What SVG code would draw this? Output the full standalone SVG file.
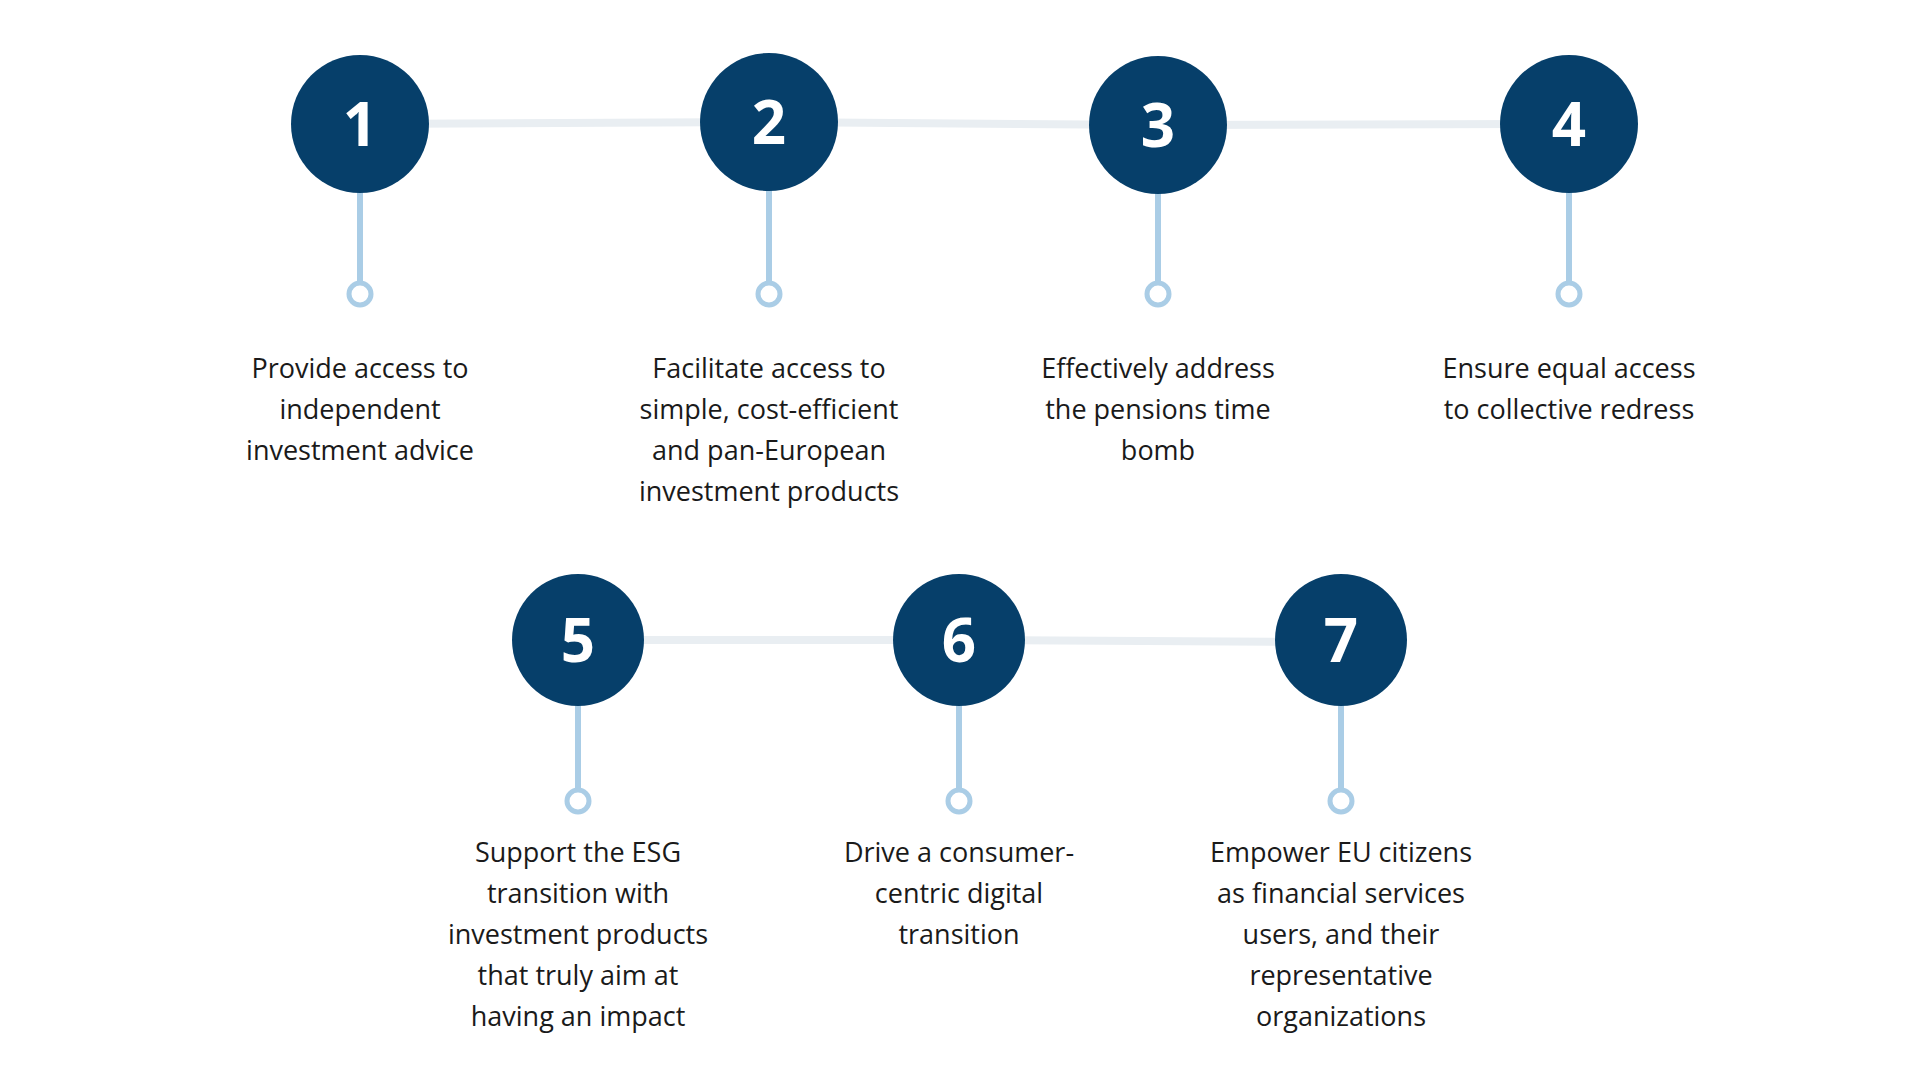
<svg xmlns="http://www.w3.org/2000/svg" width="1920" height="1080" viewBox="0 0 1920 1080">
<style>
.c{fill:#063f6a}
.n{font-family:"Open Sans","Liberation Sans",sans-serif;font-weight:700;font-size:60px;fill:#fff;text-anchor:middle}
.t{font-family:"Open Sans","Liberation Sans",sans-serif;font-size:27px;fill:#1a1a1a;text-anchor:middle}
.h{stroke:#e9eef2;stroke-width:8;fill:none}
.s{stroke:#aacde6;stroke-width:6;fill:none}
.d{stroke:#aacde6;stroke-width:5;fill:#fff}
</style>
<rect width="1920" height="1080" fill="#fff"/>
<g id="connectors">
<path class="h" d="M360 124 L769 122 L1158 125 L1569 124"/>
<path class="h" d="M578 640 L959 640 L1341 642"/>
<path class="s" d="M360 124 V283 M769 122 V283 M1158 125 V283 M1569 124 V283 M578 640 V790 M959 640 V790 M1341 640 V790"/>
</g>
<g id="node1"><circle class="d" cx="360" cy="294" r="11"/><circle class="c" cx="360" cy="124" r="69"/><text class="n" x="360" y="146">1</text>
<text class="t" x="360" y="378">Provide access to</text><text class="t" x="360" y="419">independent</text><text class="t" x="360" y="460">investment advice</text></g>
<g id="node2"><circle class="d" cx="769" cy="294" r="11"/><circle class="c" cx="769" cy="122" r="69"/><text class="n" x="769" y="144">2</text>
<text class="t" x="769" y="378">Facilitate access to</text><text class="t" x="769" y="419">simple, cost-efficient</text><text class="t" x="769" y="460">and pan-European</text><text class="t" x="769" y="501">investment products</text></g>
<g id="node3"><circle class="d" cx="1158" cy="294" r="11"/><circle class="c" cx="1158" cy="125" r="69"/><text class="n" x="1158" y="147">3</text>
<text class="t" x="1158" y="378">Effectively address</text><text class="t" x="1158" y="419">the pensions time</text><text class="t" x="1158" y="460">bomb</text></g>
<g id="node4"><circle class="d" cx="1569" cy="294" r="11"/><circle class="c" cx="1569" cy="124" r="69"/><text class="n" x="1569" y="146">4</text>
<text class="t" x="1569" y="378">Ensure equal access</text><text class="t" x="1569" y="419">to collective redress</text></g>
<g id="node5"><circle class="d" cx="578" cy="801" r="11"/><circle class="c" cx="578" cy="640" r="66"/><text class="n" x="578" y="662">5</text>
<text class="t" x="578" y="862">Support the ESG</text><text class="t" x="578" y="903">transition with</text><text class="t" x="578" y="944">investment products</text><text class="t" x="578" y="985">that truly aim at</text><text class="t" x="578" y="1026">having an impact</text></g>
<g id="node6"><circle class="d" cx="959" cy="801" r="11"/><circle class="c" cx="959" cy="640" r="66"/><text class="n" x="959" y="662">6</text>
<text class="t" x="959" y="862">Drive a consumer-</text><text class="t" x="959" y="903">centric digital</text><text class="t" x="959" y="944">transition</text></g>
<g id="node7"><circle class="d" cx="1341" cy="801" r="11"/><circle class="c" cx="1341" cy="640" r="66"/><text class="n" x="1341" y="662">7</text>
<text class="t" x="1341" y="862">Empower EU citizens</text><text class="t" x="1341" y="903">as financial services</text><text class="t" x="1341" y="944">users, and their</text><text class="t" x="1341" y="985">representative</text><text class="t" x="1341" y="1026">organizations</text></g>
</svg>
